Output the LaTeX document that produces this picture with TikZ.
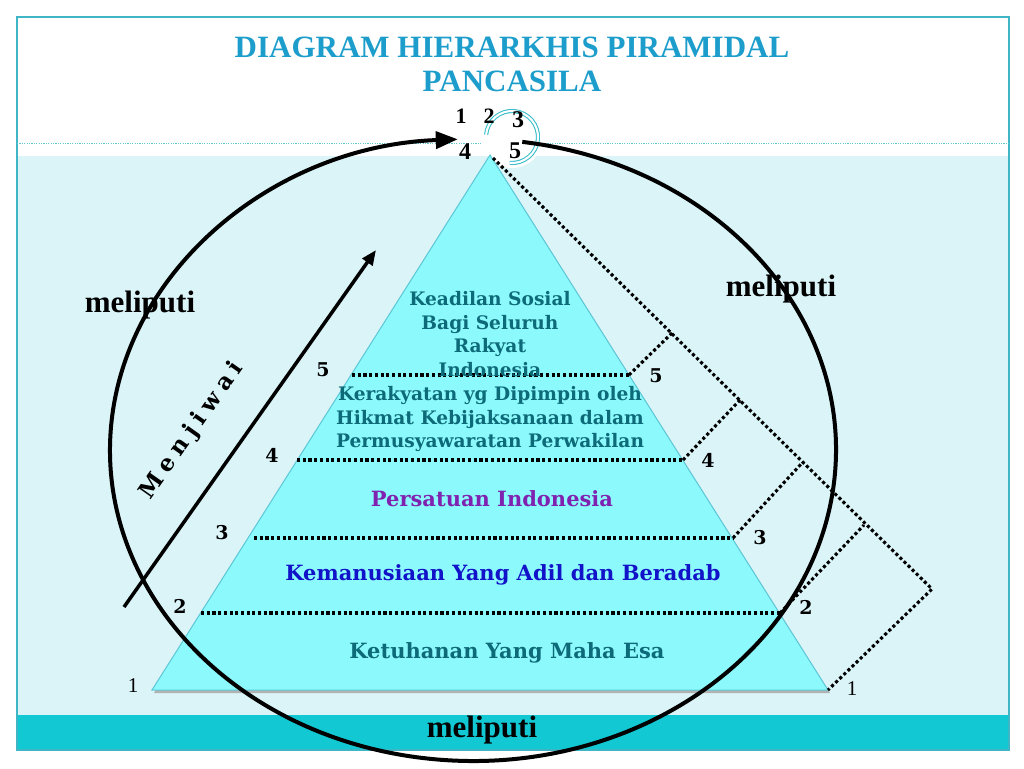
\documentclass[tikz,border=0pt]{standalone}
\usepackage{fontspec}
\setmainfont{Liberation Serif}
\newfontfamily\dvs{DejaVu Serif}
\newfontfamily\dvsls[LetterSpace=28]{DejaVu Serif}
\usetikzlibrary{arrows.meta}
\definecolor{frameteal}{HTML}{3FB6C6}
\definecolor{lightbg}{HTML}{DAF4F8}
\definecolor{bandteal}{HTML}{12C8D3}
\definecolor{pyrfill}{HTML}{8CFAFC}
\definecolor{pyredge}{HTML}{5CC6D6}
\definecolor{titleblue}{HTML}{1C9DCB}
\definecolor{darkteal}{HTML}{0D6A78}
\definecolor{purp}{HTML}{8022B0}
\definecolor{kblue}{HTML}{1212C8}
\definecolor{ringteal}{HTML}{3CBFCC}
\tikzset{
  dotln/.style={line width=3.1pt, dash pattern=on 3.1pt off 2.6pt},
  lvltxt/.style={font=\dvs\bfseries\fontsize{18.6}{23.5}\selectfont, text=darkteal, align=center, inner sep=0pt},
  bigtxt/.style={font=\dvs\bfseries\fontsize{21}{24}\selectfont, inner sep=0pt},
  num/.style={font=\dvs\bfseries\fontsize{19}{22}\selectfont, inner sep=0pt},
  topnum/.style={font=\bfseries\fontsize{24}{26}\selectfont, inner sep=0pt},
  onenum/.style={font=\fontsize{21}{22}\selectfont, inner sep=0pt},
  meli/.style={font=\bfseries\fontsize{31}{32}\selectfont, inner sep=0pt},
  titletxt/.style={font=\bfseries\fontsize{31}{32}\selectfont, text=titleblue, inner sep=0pt},
  bigell/.style={line width=4pt, -{Triangle[length=22pt,width=17pt]}},
  jiwa/.style={line width=3.5pt, -{Triangle[length=15pt,width=12pt]}}
}
\begin{document}
\begin{tikzpicture}[x=1pt,y=1pt,yscale=-1]
\useasboundingbox (0,0) rectangle (1024,768);
\fill[white] (0,0) rectangle (1024,768);
% background regions
\fill[lightbg] (17,156) rectangle (1009,715);
\fill[bandteal] (17,715) rectangle (1009,750);
\draw[frameteal, line width=1.5pt] (17,17) rectangle (1009,750);
\draw[frameteal!80, line width=1pt, dash pattern=on 1.2pt off 1.2pt] (17,143) -- (1009,143);
% title
\node[titletxt] (t1) at (512,47) {DIAGRAM HIERARKHIS PIRAMIDAL};
\node[titletxt] (t2) at (512,81) {PANCASILA};
% glow near apex
\fill[white] (512,137) circle[radius=31];
% pyramid
\coordinate (apex) at (490,155);
\coordinate (bl) at (152,690);
\coordinate (br) at (828,690);
\fill[black!30] ([shift={(2,3)}]apex) -- ([shift={(2,3)}]bl) -- ([shift={(2,3)}]br) -- cycle;
\filldraw[fill=pyrfill, draw=pyredge, line width=1pt] (apex) -- (bl) -- (br) -- cycle;
% level lines
\coordinate (L5) at (352,375); \coordinate (R5) at (629,375);
\coordinate (L4) at (297,460); \coordinate (R4) at (683,460);
\coordinate (L3) at (254,538); \coordinate (R3) at (733,538);
\coordinate (L2) at (201,613); \coordinate (R2) at (780,613);
\draw[dotln] (L5) -- (R5);
\draw[dotln] (L4) -- (R4);
\draw[dotln] (L3) -- (R3);
\draw[dotln] (L2) -- (R2);
% right dotted construction
\coordinate (D0) at (493,158);
\coordinate (DE) at (932,589);
\coordinate (T5) at (672,333);
\coordinate (T4) at (740,400);
\coordinate (T3) at (802,463);
\coordinate (T2) at (864,525);
\draw[dotln] (D0) -- (DE) -- (br);
\draw[dotln] (R5) -- (T5);
\draw[dotln] (R4) -- (T4);
\draw[dotln] (R3) -- (T3);
\draw[dotln] (R2) -- (T2);
% level texts
\node[lvltxt] (k5) at (490,334) {Keadilan Sosial\\Bagi Seluruh\\Rakyat\\Indonesia};
\node[lvltxt] (k4) at (490,419) {Kerakyatan yg Dipimpin oleh\\Hikmat Kebijaksanaan dalam\\Permusyawaratan Perwakilan};
\node[bigtxt, text=purp] (k3) at (492,499) {Persatuan Indonesia};
\node[bigtxt, text=kblue] (k2) at (503,575) {Kemanusiaan Yang Adil dan Beradab};
\node[bigtxt, text=darkteal] (k1) at (507,653) {Ketuhanan Yang Maha Esa};
% level numbers
\node[num] (nl5) at (323,370) {5};
\node[num] (nl4) at (272,455) {4};
\node[num] (nl3) at (222,533) {3};
\node[num] (nl2) at (180,606) {2};
\node[onenum] (nl1) at (133,686) {1};
\node[num] (nr5) at (656,376) {5};
\node[num] (nr4) at (708,460) {4};
\node[num] (nr3) at (760,538) {3};
\node[num] (nr2) at (806,607) {2};
\node[onenum] (nr1) at (852,689) {1};
% ring
\draw[ringteal, line width=1.1pt, double=white, double distance=2pt]
  ([shift={(185:26)}]512,137) arc[start angle=185, end angle=455, radius=26];
% top numbers
\node[topnum, font=\bfseries\fontsize{22}{24}\selectfont] (n1) at (461,116) {1};
\node[topnum, font=\bfseries\fontsize{22}{24}\selectfont] (n2) at (489,116) {2};
\node[topnum] (n3) at (518,120) {3};
\node[topnum] (n4) at (465,152) {4};
\node[topnum] (n5) at (515,151) {5};
% meliputi labels
\node[meli] (m1) at (140,305) {meliputi};
\node[meli] (m2) at (781,289) {meliputi};
\node[meli] (m3) at (482,730) {meliputi};
% big ellipse
\coordinate (C) at (473,450);
\draw[bigell] ([shift={(-82.2:363 and 311)}]C) arc[start angle=-82.2, end angle=267.6, x radius=363, y radius=311];
% menjiwai arrow
\coordinate (ja) at (124,607);
\coordinate (jb) at (376,250);
\draw[jiwa] (ja) -- (jb);
\node[font=\dvsls\bfseries\fontsize{23}{25}\selectfont, rotate=54.8, inner sep=0pt] (mj) at (192,431) {Menjiwai};
\end{tikzpicture}
\end{document}
